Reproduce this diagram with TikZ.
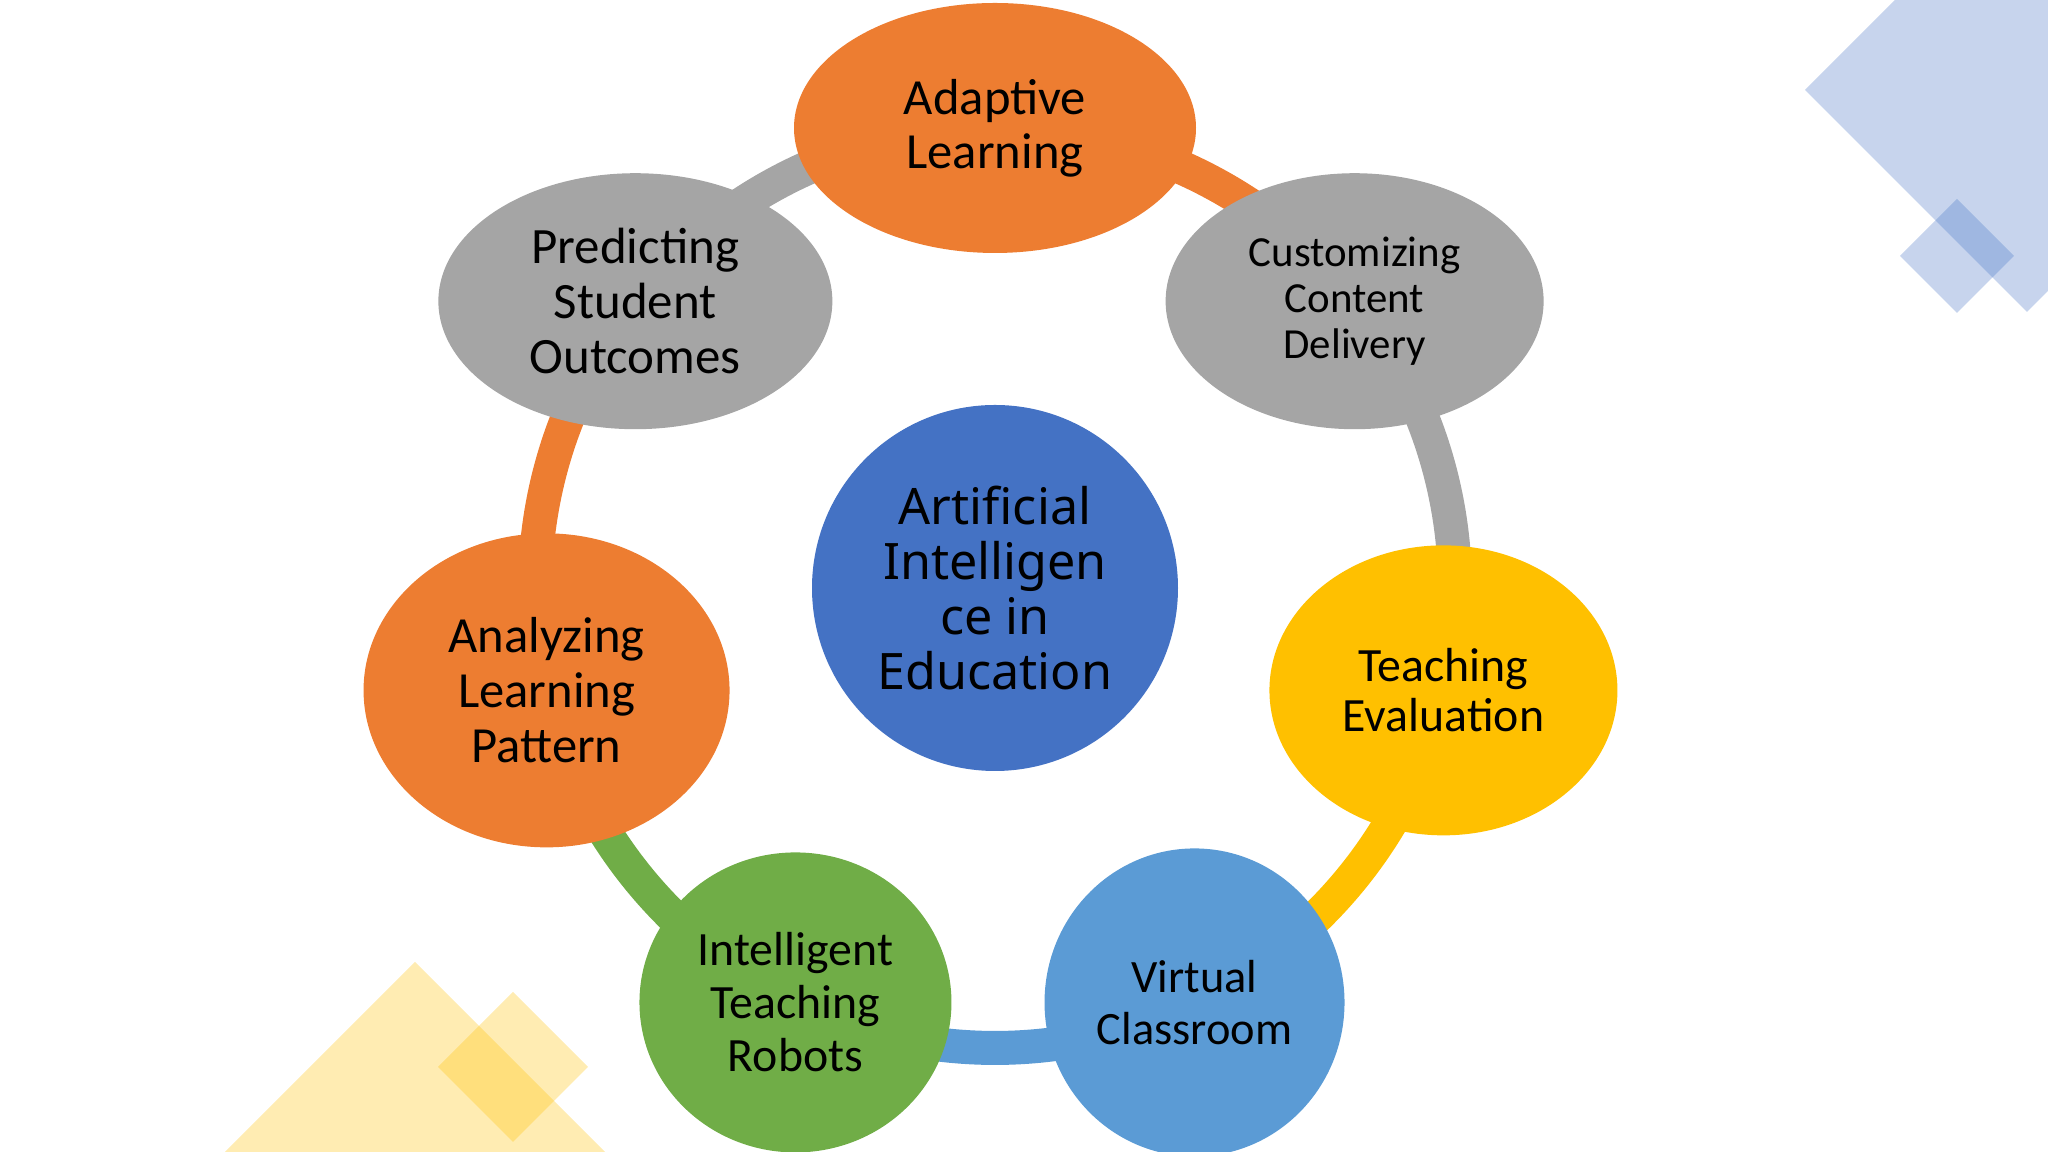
\documentclass[tikz,border=0pt]{standalone}
\usepackage{fontspec}
\newfontfamily\carlito{Carlito}
\newfontfamily\notosans{Noto Sans}
\usetikzlibrary{shapes.geometric,backgrounds}

\definecolor{aiorange}{HTML}{ED7D31}
\definecolor{aigray}{HTML}{A5A5A5}
\definecolor{aiyellow}{HTML}{FFC000}
\definecolor{ailightblue}{HTML}{5B9BD5}
\definecolor{aigreen}{HTML}{70AD47}
\definecolor{aiblue}{HTML}{4472C4}

\tikzset{
  topic/.style={ellipse, inner sep=0pt, align=center},
  ring/.style={line width=0.34cm},
  deco/.style={fill opacity=0.3},
}

\begin{document}
\begin{tikzpicture}
    \useasboundingbox (0,0) rectangle (20.48,11.52);

    % Background diamonds
    \fill[deco, aiblue, shift={(20.27,10.62)}] (-2.22,0) -- (0,2.22) -- (2.22,0) -- (0,-2.22) -- cycle;
    \fill[deco, aiblue, shift={(19.57,8.96)}] (-0.57,0) -- (0,0.57) -- (0.57,0) -- (0,-0.57) -- cycle;
    \fill[deco, aiyellow, shift={(4.15,0)}] (-1.90,0) -- (0,1.90) -- (1.90,0) -- (0,-1.90) -- cycle;
    \fill[deco, aiyellow, shift={(5.13,0.85)}] (-0.75,0) -- (0,0.75) -- (0.75,0) -- (0,-0.75) -- cycle;

    \path
    % Center
    (9.95,5.64) node[circle, fill=aiblue, minimum size=3.66cm, inner sep=0pt, align=center,
                     font=\notosans\fontsize{14.3pt}{15.6pt}\selectfont] (aied)
                {Artificial\\Intelligen\\ce in\\Education}

    % Outer nodes, clockwise from the top
    +(90:4.6)      node[topic, fill=aiorange, minimum width=4.02cm, minimum height=2.50cm,
                        font=\carlito\fontsize{14.4pt}{15.4pt}\selectfont] (adaptive)
                   {Adaptive\\Learning}
    +(38.57:4.6)   node[topic, fill=aigray, minimum width=3.78cm, minimum height=2.56cm,
                        font=\carlito\fontsize{12.2pt}{13.1pt}\selectfont] (customizing)
                   {Customizing\\Content\\Delivery}
    +(-12.86:4.6)  node[topic, fill=aiyellow, minimum width=3.48cm, minimum height=2.90cm,
                        font=\carlito\fontsize{13.6pt}{14.2pt}\selectfont] (teaching)
                   {Teaching\\Evaluation}
    +(-64.29:4.6)  node[topic, fill=ailightblue, minimum width=3.00cm, minimum height=3.08cm,
                        font=\carlito\fontsize{13.2pt}{14.8pt}\selectfont] (virtual)
                   {Virtual\\Classroom}
    +(-115.71:4.6) node[topic, fill=aigreen, minimum width=3.12cm, minimum height=3.00cm,
                        font=\carlito\fontsize{13.6pt}{15.1pt}\selectfont] (robots)
                   {Intelligent\\Teaching\\Robots}
    +(-167.14:4.6) node[topic, fill=aiorange, minimum width=3.66cm, minimum height=3.14cm,
                        font=\carlito\fontsize{14.4pt}{15.6pt}\selectfont] (analyzing)
                   {Analyzing\\Learning\\Pattern}
    +(141.43:4.6)  node[topic, fill=aigray, minimum width=3.94cm, minimum height=2.56cm,
                        font=\carlito\fontsize{14.5pt}{15.6pt}\selectfont] (predicting)
                   {Predicting\\Student\\Outcomes};

    % Ring segments behind the nodes
    \begin{scope}[on background layer]
    \draw[ring, aiorange]    (adaptive.center)    arc[start angle=90,      end angle=38.57,   radius=4.6];
    \draw[ring, aigray]      (customizing.center) arc[start angle=38.57,   end angle=-12.86,  radius=4.6];
    \draw[ring, aiyellow]    (teaching.center)    arc[start angle=-12.86,  end angle=-64.29,  radius=4.6];
    \draw[ring, ailightblue] (virtual.center)     arc[start angle=-64.29,  end angle=-115.71, radius=4.6];
    \draw[ring, aigreen]     (robots.center)      arc[start angle=-115.71, end angle=-167.14, radius=4.6];
    \draw[ring, aiorange]    (analyzing.center)   arc[start angle=-167.14, end angle=-218.57, radius=4.6];
    \draw[ring, aigray]      (predicting.center)  arc[start angle=141.43,  end angle=90,      radius=4.6];
    \end{scope}
\end{tikzpicture}
\end{document}
